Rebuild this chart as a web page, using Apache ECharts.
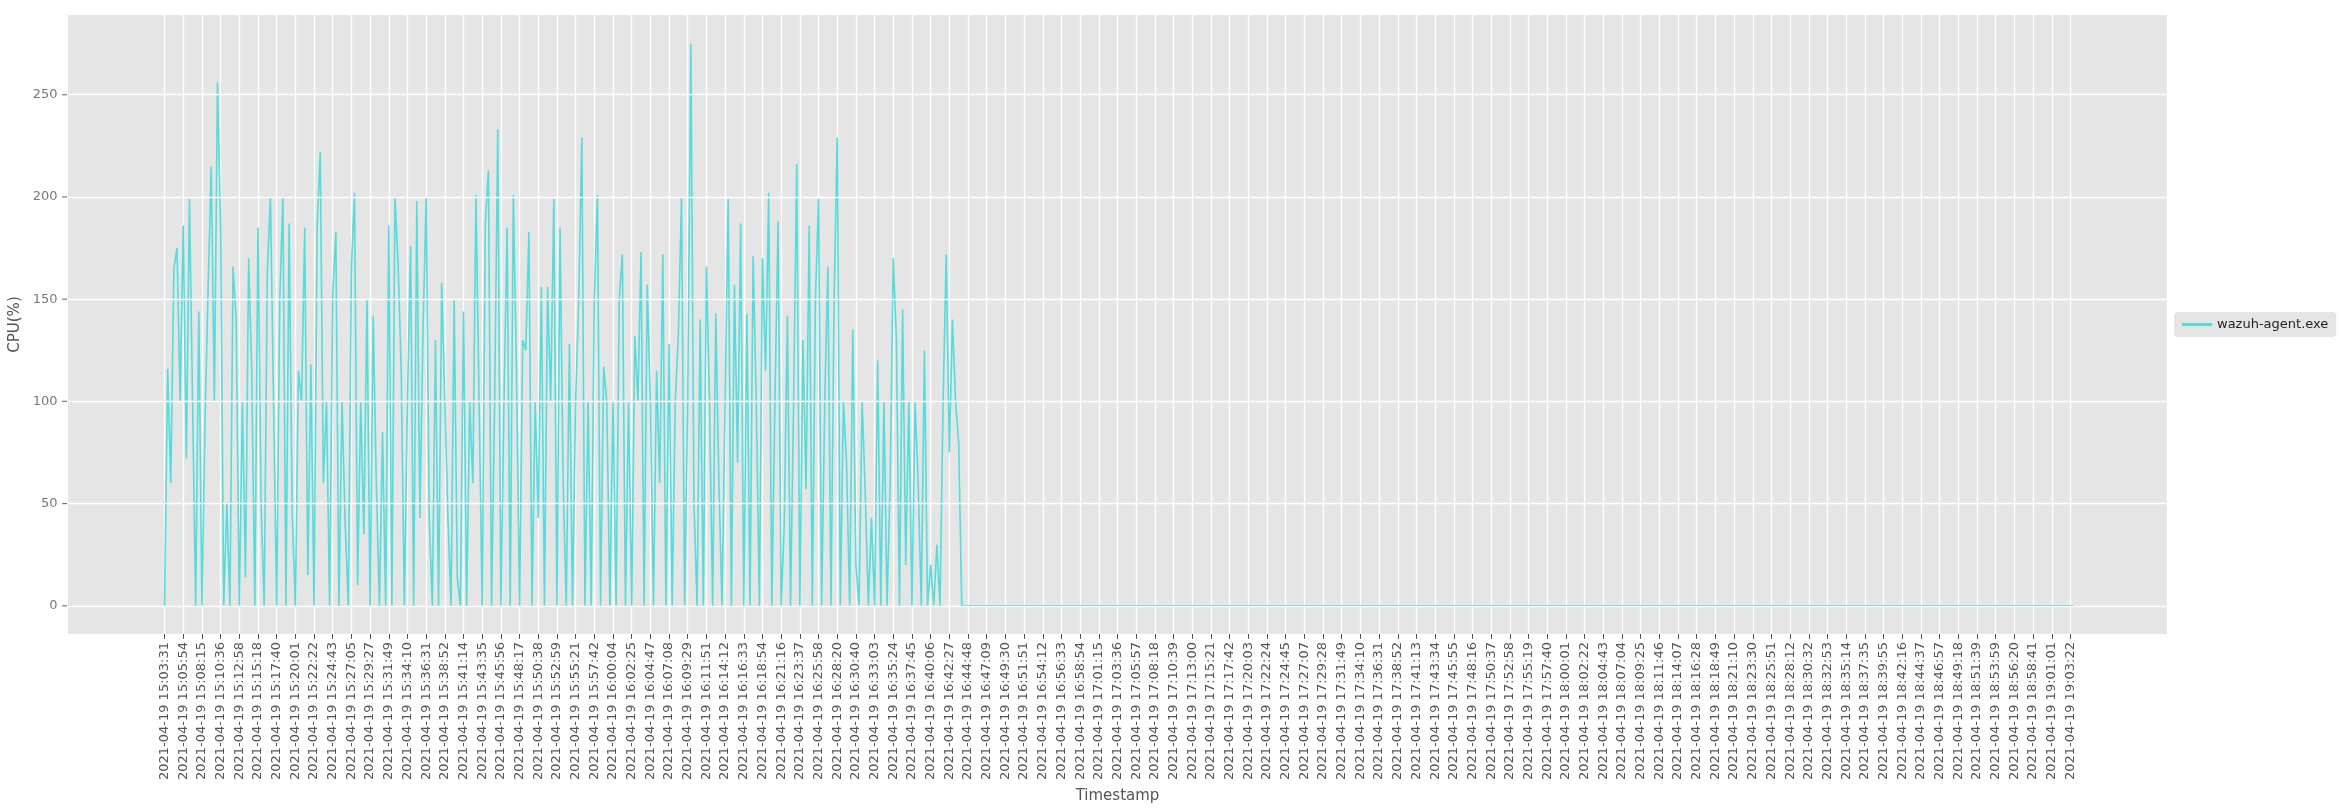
<!DOCTYPE html>
<html><head><meta charset="utf-8">
<script src="https://cdn.jsdelivr.net/npm/echarts@6/dist/echarts.min.js"></script>
<style>html,body{margin:0;padding:0;background:#fff}#c{width:2340px;height:810px}</style>
</head><body><div id="c"></div>
<script>
const tickLabels = ["15:03:31","15:05:54","15:08:15","15:10:36","15:12:58","15:15:18","15:17:40","15:20:01","15:22:22","15:24:43","15:27:05","15:29:27","15:31:49","15:34:10","15:36:31","15:38:52","15:41:14","15:43:35","15:45:56","15:48:17","15:50:38","15:52:59","15:55:21","15:57:42","16:00:04","16:02:25","16:04:47","16:07:08","16:09:29","16:11:51","16:14:12","16:16:33","16:18:54","16:21:16","16:23:37","16:25:58","16:28:20","16:30:40","16:33:03","16:35:24","16:37:45","16:40:06","16:42:27","16:44:48","16:47:09","16:49:30","16:51:51","16:54:12","16:56:33","16:58:54","17:01:15","17:03:36","17:05:57","17:08:18","17:10:39","17:13:00","17:15:21","17:17:42","17:20:03","17:22:24","17:24:45","17:27:07","17:29:28","17:31:49","17:34:10","17:36:31","17:38:52","17:41:13","17:43:34","17:45:55","17:48:16","17:50:37","17:52:58","17:55:19","17:57:40","18:00:01","18:02:22","18:04:43","18:07:04","18:09:25","18:11:46","18:14:07","18:16:28","18:18:49","18:21:10","18:23:30","18:25:51","18:28:12","18:30:32","18:32:53","18:35:14","18:37:35","18:39:55","18:42:16","18:44:37","18:46:57","18:49:18","18:51:39","18:53:59","18:56:20","18:58:41","19:01:01","19:03:22"].map(t => "2021-04-19 " + t);
const yTicks = [0, 50, 100, 150, 200, 250];
const samplesPerTick = 6;
const cpuActive = [
0,116,60,165,175,100, 186,72,199,100,0,144, 0,90,156,215,100,256, 185,0,50,0,166,140,
0,100,14,170,115,0, 185,50,0,163,200,100, 0,150,200,0,187,45, 0,115,100,185,15,118,
0,185,222,60,100,0, 152,183,0,100,40,0, 165,202,10,100,35,150, 0,142,60,0,85,0,
186,0,200,167,115,0, 100,176,0,198,43,135, 200,42,0,130,0,158, 100,43,0,150,14,0,
144,0,100,60,201,100, 0,187,213,0,100,233, 0,100,185,0,201,115, 0,130,125,183,0,100,
43,156,0,156,100,199, 0,185,60,0,128,0, 100,150,229,0,100,0, 150,201,0,117,100,0,
100,0,150,172,0,100, 0,132,100,173,0,157, 100,0,115,60,172,0, 128,0,100,133,200,0,
100,275,50,0,140,0, 166,100,0,143,60,0, 100,199,0,157,70,187, 0,143,0,171,100,0,
170,115,202,0,100,188, 0,40,142,0,100,216, 0,130,57,186,0,150, 199,0,100,166,0,150,
229,0,100,70,0,135, 20,0,100,55,0,43, 0,120,0,100,0,60, 170,130,0,145,20,100,
0,100,60,0,125,0, 20,0,30,0,100,172, 75,140,100,80,0,0
];
const idleValue = 0;
const padL = 31, padR = 30;
const nSamples = (tickLabels.length - 1) * samplesPerTick + 2;

const cats = [], vals = [];
for (let i = 0; i < padL; i++) { cats.push('p' + i); vals.push('-'); }
for (let s = 0; s < nSamples; s++) {
  cats.push(s % samplesPerTick === 0 && tickLabels[s / samplesPerTick] ? tickLabels[s / samplesPerTick] : 's' + s);
  vals.push(s < cpuActive.length ? cpuActive[s] : idleValue);
}
for (let i = 0; i < padR; i++) { cats.push('q' + i); vals.push('-'); }
const isTick = (idx) => { const s = idx - padL; return s >= 0 && s % samplesPerTick === 0 && s / samplesPerTick < tickLabels.length; };

const chart = echarts.init(document.getElementById('c'));
chart.setOption({
  animation: false,
  backgroundColor: '#fff',
  grid: { left: 67, right: 173, top: 15, bottom: 176, backgroundColor: '#e5e5e5', show: true, borderWidth: 0 },
  legend: {
    data: ['wazuh-agent.exe'], orient: 'vertical', left: 2174, top: 312,
    backgroundColor: '#e5e5e5', borderRadius: 4, padding: [6, 8],
    itemWidth: 30, itemHeight: 3, icon: 'rect',
    textStyle: { fontFamily: 'DejaVu Sans', fontSize: 13, color: '#222' }
  },
  xAxis: {
    type: 'category', data: cats, boundaryGap: false,
    name: 'Timestamp', nameLocation: 'middle', nameGap: 155,
    nameTextStyle: { fontFamily: 'DejaVu Sans', fontSize: 15, color: '#555' },
    axisLine: { show: false, onZero: false },
    axisTick: { show: true, interval: isTick, length: 5, lineStyle: { color: '#555' } },
    axisLabel: { interval: isTick, rotate: 90, fontFamily: 'DejaVu Sans', fontSize: 13, color: '#555', margin: 8 },
    splitLine: { show: true, interval: isTick, lineStyle: { color: '#fff', width: 1.3 } }
  },
  yAxis: [{
    type: 'value', min: -13.8, max: 289,
    name: 'CPU(%)', nameLocation: 'middle', nameGap: 45,
    nameTextStyle: { fontFamily: 'DejaVu Sans', fontSize: 15, color: '#555' },
    axisLine: { show: false },
    axisTick: { show: false },
    axisLabel: { show: false },
    splitLine: { show: false }
  }],
  series: [{
    type: 'line', data: yTicks.map(v => [padL, v]), showSymbol: false, lineStyle: { width: 0 }, silent: true,
    markLine: {
      silent: true, symbol: 'none', animation: false,
      lineStyle: { color: '#fff', width: 1.3, type: 'solid' },
      label: { show: false },
      data: yTicks.map(v => ({ yAxis: v }))
    },
    z: 1
  }, {
    name: 'wazuh-agent.exe', type: 'line', data: vals, showSymbol: false,
    lineStyle: { color: '#55dbdb', width: 1.6 }, itemStyle: { color: '#55dbdb' }, z: 3
  }, {
    type: 'scatter', data: yTicks.map(v => [padL, v]), symbol: 'rect', symbolSize: [5, 1.2],
    symbolOffset: [-(97 + 3), 0], itemStyle: { color: '#555' }, silent: true
  }, {
    type: 'scatter', data: yTicks.map(v => [padL, v]), symbolSize: 0, silent: true,
    label: { show: true, position: 'left', distance: 0, offset: [-(97 + 10), 0],
      formatter: p => String(p.value[1]), fontFamily: 'DejaVu Sans', fontSize: 13, color: '#555' }
  }]
});
</script></body></html>
